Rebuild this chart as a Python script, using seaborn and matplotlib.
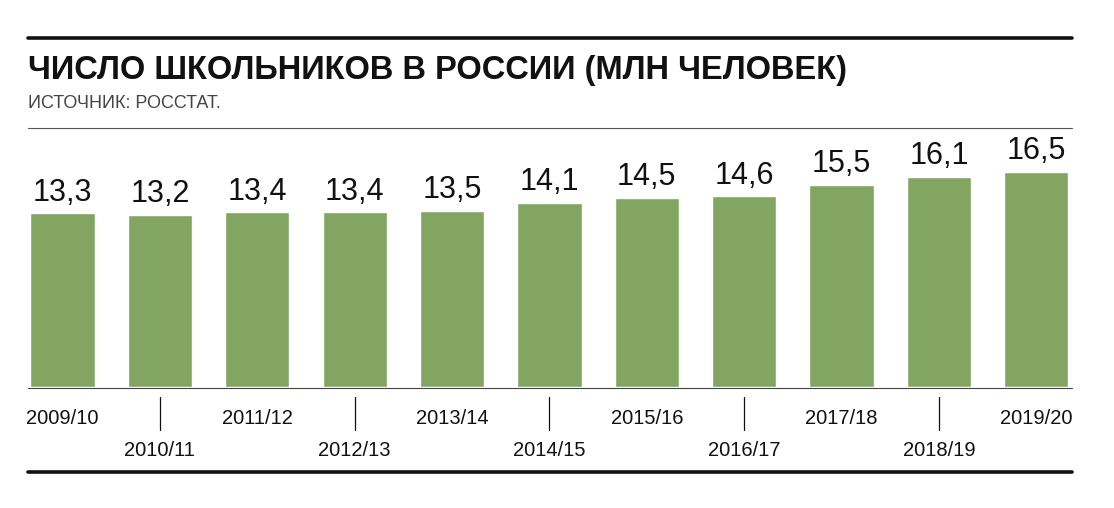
import matplotlib
matplotlib.use("Agg")
import matplotlib.pyplot as plt
import seaborn as sns
import pandas as pd

years = ["2009/10", "2010/11", "2011/12", "2012/13", "2013/14", "2014/15",
         "2015/16", "2016/17", "2017/18", "2018/19", "2019/20"]
pupils = [13.3, 13.2, 13.4, 13.4, 13.5, 14.1, 14.5, 14.6, 15.5, 16.1, 16.5]

sns.set_style("white")
plt.rcParams['font.family'] = ['Liberation Sans', 'DejaVu Sans']

W, H = 1114, 508
fig = plt.figure(figsize=(W / 100, H / 100), dpi=100)

# axes placed in pixel terms: baseline at y=387
left, right = 13.8, 1085
bottom, top = 387, 145.6
ax = fig.add_axes([left / W, 1 - bottom / H, (right - left) / W, (bottom - top) / H])

df = pd.DataFrame({"year": years, "value": pupils})
sns.barplot(data=df, x="year", y="value", color="#82a661", saturation=1,
            width=0.66, ax=ax)
ax.set_xlim(-0.5, 10.5)
ax.set_ylim(0, 18.5)
ax.axis("off")

for i, v in enumerate(pupils):
    ax.annotate(f"{v:.1f}".replace(".", ","), (i, v), xytext=(0, 4),
                textcoords="offset points", ha="center", va="bottom",
                fontsize=22, color="#111111")
    if i % 2 == 0:
        ax.annotate(years[i], (i, 0), xytext=(0, -31 * 0.72), textcoords="offset points",
                    ha="center", va="center", fontsize=14.5, color="#111111")
    else:
        ax.annotate(years[i], (i, 0), xytext=(0, -63 * 0.72), textcoords="offset points",
                    ha="center", va="center", fontsize=14.5, color="#111111")
        ax.plot([i, i], [-10 / 13.05, -43 / 13.05], color="#111111", lw=0.9,
                clip_on=False)

def fy(p):
    return 1 - p / H

fig.add_artist(plt.Line2D([28 / W, 1072 / W], [fy(38), fy(38)], color="#111111", lw=2.6))
fig.add_artist(plt.Line2D([28 / W, 1072 / W], [fy(128), fy(128)], color="#555555", lw=0.8))
fig.add_artist(plt.Line2D([28 / W, 1072 / W], [fy(387.5), fy(387.5)], color="#444444", lw=0.8))
fig.add_artist(plt.Line2D([28 / W, 1072 / W], [fy(472), fy(472)], color="#111111", lw=2.6))

fig.text(28 / W, fy(70), "ЧИСЛО ШКОЛЬНИКОВ В РОССИИ (МЛН ЧЕЛОВЕК)", fontsize=23.5,
         fontweight="bold", va="center", ha="left", color="#111111")
fig.text(28 / W, fy(103), "ИСТОЧНИК: РОССТАТ.", fontsize=13, va="center", ha="left",
         color="#444444")

fig.savefig("out.png", dpi=100)
